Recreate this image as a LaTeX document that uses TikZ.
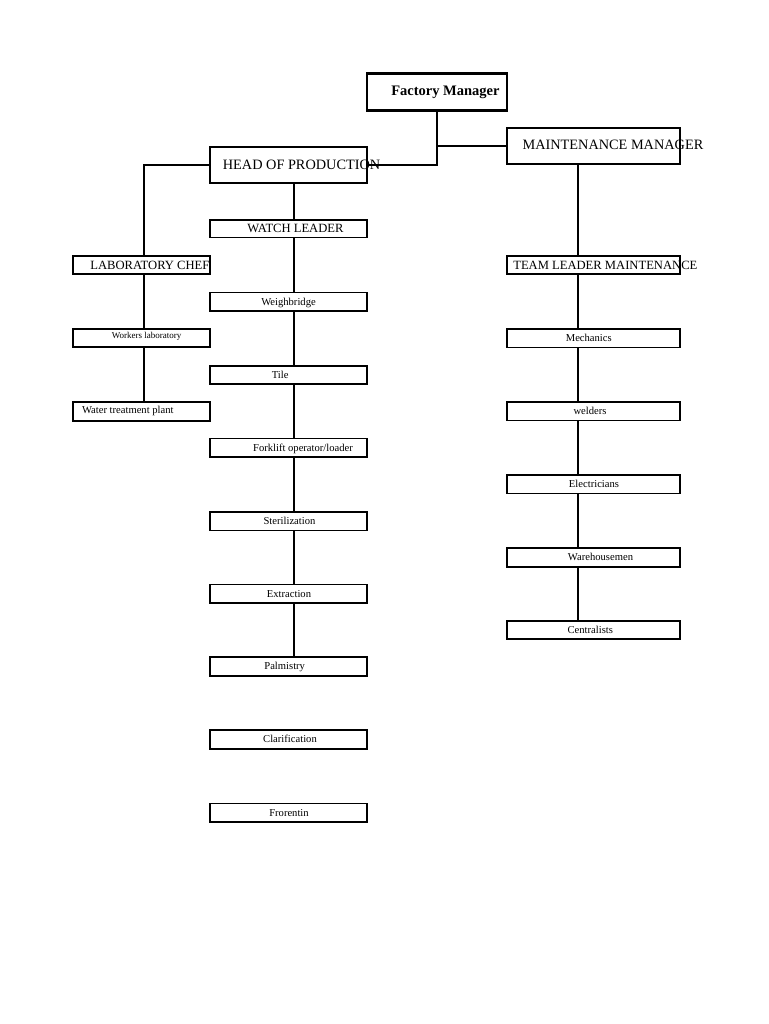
\documentclass[tikz,border=0pt]{standalone}
\usepackage{fontspec}
\setmainfont{Liberation Serif}
\usetikzlibrary{positioning}
\begin{document}
\begin{tikzpicture}[x=1pt,y=-1pt,
  box/.style={draw,line width=1.6pt,minimum width=157pt,minimum height=18.5pt,inner sep=0pt},
  link/.style={line width=2.2pt},
  txt/.style={inner sep=0pt,anchor=base west},
  big/.style={txt,font=\fontsize{14.3}{16}\selectfont},
  mid/.style={txt,font=\fontsize{12.6}{14}\selectfont},
  small/.style={inner sep=0pt,anchor=base,font=\fontsize{10.6}{12}\selectfont}]
  \useasboundingbox (0,0) rectangle (768,1024);
  % top level
  \node[box,line width=2.8pt,minimum width=140pt,minimum height=37pt] (fm) at (437,91.7) {};
  \node[box,minimum height=36.5pt] (hop) at (288.7,165) {};
  \node[box,minimum width=173pt,minimum height=36pt] (mm) at (593.7,146.3) {};
  \node[box,minimum height=17.7pt] (wl) at (288.7,228.8) {};
  \node[box,minimum width=137pt,minimum height=18pt] (lc) at (141.7,265) {};
  \node[box,minimum width=173pt,minimum height=18pt] (tlm) at (593.7,265.2) {};
  % coordinates of the vertical lines
  \coordinate (lx) at (144,0);
  \coordinate (mx) at (294,0);
  \coordinate (rx) at (577.7,0);
  % production line
  \foreach \nm/\yy/\tx/\txt in {wb/301.8/288.5/Weighbridge, tile/375/280.2/Tile,
      fork/447.8/303/{Forklift operator/loader}, ster/521.2/289.5/Sterilization,
      ext/593.8/289/Extraction, palm/666.5/284.7/Palmistry,
      clar/739.5/290/Clarification, fror/812.8/289/Frorentin}{
    \node[box] (\nm) at (288.7,\yy) {};
    \node[small] (\nm-t) at (\tx,\yy+3.3) {\txt};
  }
  % laboratory
  \node[box,minimum width=137pt] (wlab) at (141.7,338) {};
  \node[small,font=\fontsize{9}{10}\selectfont] (wlab-t) at (146.7,338.4) {Workers laboratory};
  \node[box,minimum width=137pt] (wtp) at (141.7,411.5) {};
  \node[small] (wtp-t) at (127.8,413.3) {Water treatment plant};
  % maintenance
  \foreach \nm/\yy/\tx/\txt in {mech/338.2/588.8/Mechanics, weld/411.2/590/welders,
      elec/484.2/594/Electricians, ware/557.5/600.5/Warehousemen,
      cent/630/590.3/Centralists}{
    \node[box,minimum width=173pt] (\nm) at (593.7,\yy) {};
    \node[small] (\nm-t) at (\tx,\yy+3.3) {\txt};
  }
  % links
  \draw[link] (fm.south) -- (fm.south |- hop.east) -- (hop.east);
  \draw[link] (fm.south |- mm.west) -- (mm.west);
  \draw[link] (hop.west) -| (lc.north -| lx);
  \foreach \a/\b in {hop/wl,wl/wb,wb/tile,tile/fork,fork/ster,ster/ext,ext/palm}
    \draw[link] (\a.south -| mx) -- (\b.north -| mx);
  \foreach \a/\b in {lc/wlab,wlab/wtp}
    \draw[link] (\a.south -| lx) -- (\b.north -| lx);
  \foreach \a/\b in {mm/tlm,tlm/mech,mech/weld,weld/elec,elec/ware,ware/cent}
    \draw[link] (\a.south -| rx) -- (\b.north -| rx);
  % texts of the upper boxes
  \node[big,font=\bfseries\fontsize{14.5}{16}\selectfont] (fm-t) at ([xshift=25.5pt,yshift=-4.3pt]fm.west) {Factory Manager};
  \node[big] (hop-t) at ([xshift=13.3pt,yshift=-5pt]hop.west) {HEAD OF PRODUCTION};
  \node[big] (mm-t) at ([xshift=16pt,yshift=-3.7pt]mm.west) {MAINTENANCE MANAGER};
  \node[mid] (wl-t) at ([xshift=37.7pt,yshift=-3.9pt]wl.west) {WATCH LEADER};
  \node[mid] (lc-t) at ([xshift=17.7pt,yshift=-4.3pt]lc.west) {LABORATORY CHEF};
  \node[mid] (tlm-t) at ([xshift=6.7pt,yshift=-4.1pt]tlm.west) {TEAM LEADER MAINTENANCE};
\end{tikzpicture}
\end{document}
